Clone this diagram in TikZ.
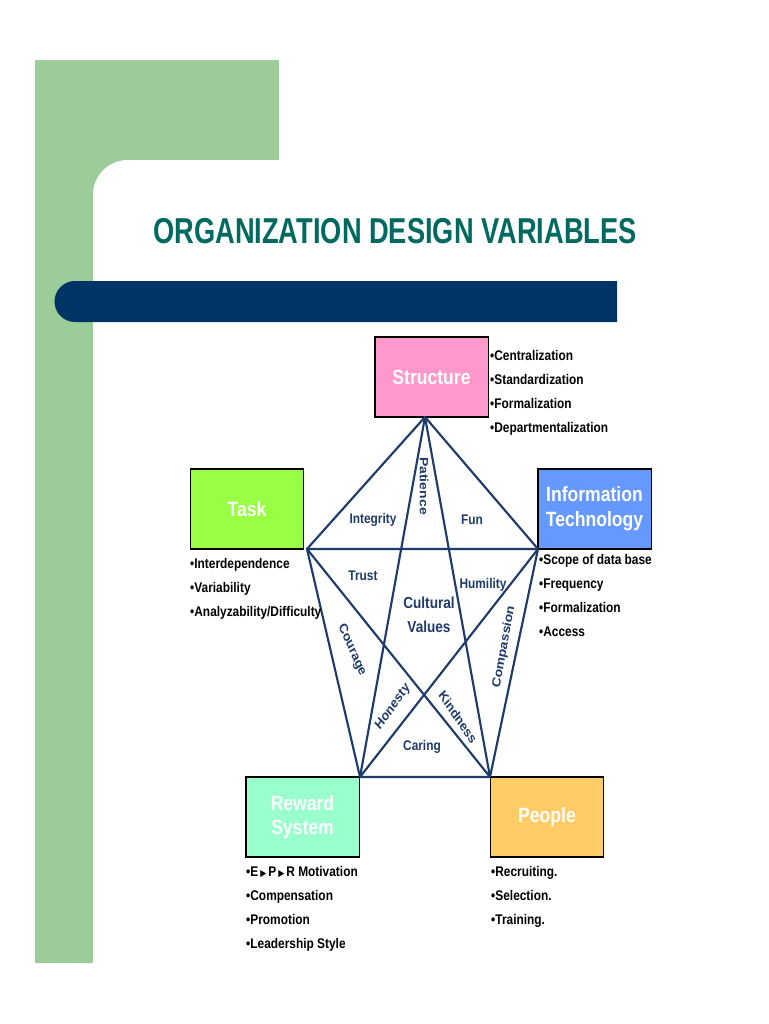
\documentclass[tikz,border=0pt]{standalone}
\usepackage{fontspec}
\setmainfont{Liberation Sans}
\newfontfamily\dejavu{DejaVu Sans}
\begin{document}
\begin{tikzpicture}[x=0.75pt,y=-0.75pt]
\definecolor{bggreen}{HTML}{9CCC98}
\definecolor{navy}{HTML}{003366}
\definecolor{teal}{HTML}{006A60}
\definecolor{lc}{HTML}{1F3B6B}
\tikzset{
 box/.style={draw=black,line width=1pt,minimum width=85pt,minimum height=60pt,inner sep=0pt,align=center},
 boxt/.style={text=white,font=\bfseries\fontsize{15.5}{18.5}\selectfont,align=center,xscale=0.85,inner sep=0pt},
 lst/.style={font=\bfseries\fontsize{10.5}{18}\selectfont,align=left,anchor=north west,inner sep=0pt,text=black,xscale=0.85},
 val/.style={font=\bfseries\fontsize{10.5}{12}\selectfont,text=lc,inner sep=0pt,xscale=0.85},
 edge/.style={draw=lc,line width=1.6pt}}
\useasboundingbox (0,0) rectangle (768,1024);
\fill[white] (0,0) rectangle (768,1024);
\fill[bggreen] (35,60) rectangle (279,200);
\fill[bggreen] (35,60) rectangle (93,963);
\fill[white] (93,963) [rounded corners=26pt] -- (93,160) [sharp corners] -- (279,160) -- (279,963) -- cycle;
\node[font=\bfseries\fontsize{27}{30}\selectfont,text=teal,xscale=0.757] (title) at (395,231) {ORGANIZATION DESIGN VARIABLES};
\fill[navy] (617,281) -- (75,281) arc[start angle=270,end angle=90,radius=20.5] -- (617,322) -- cycle;
% boxes
\node[box,fill={rgb,255:red,255;green,153;blue,204}] (s) at (431.5,377) {};
\node[boxt] at (s) {Structure};
\node[box,fill={rgb,255:red,153;green,255;blue,68}] (t) at (247,509) {};
\node[boxt] at (t) {Task};
\node[box,fill={rgb,255:red,102;green,153;blue,255}] (it) at (594.5,509) {};
\node[boxt] at (it) {Information\\Technology};
\node[box,fill={rgb,255:red,153;green,255;blue,204}] (r) at (302.5,817) {};
\node[boxt] at (r) {Reward\\System};
\node[box,fill={rgb,255:red,255;green,204;blue,102}] (p) at (547,817) {};
\node[boxt] at (p) {People};
% vertices
\coordinate (A) at (425,417);
\coordinate (B) at (307,549);
\coordinate (C) at (538,549);
\coordinate (D) at (360,777);
\coordinate (E) at (490,777);
\draw[edge,line join=round] (A) -- (B) -- (D) -- (E) -- (C) -- cycle;
\draw[edge] (A) -- (D) (A) -- (E) (B) -- (C) (B) -- (E) (C) -- (D);
% values
\node[val] (v1) at (373,520) {Integrity};
\node[val] (v2) at (472,520) {Fun};
\node[val,rotate=-90] (v3) at (424,486) {Patience};
\node[val] (v4) at (363,576) {Trust};
\node[val] (v5) at (483,585) {Humility};
\node[val,font=\bfseries\fontsize{12}{18}\selectfont,align=center] (v6) at (429,615) {Cultural\\Values};
\node[val,rotate=-63] (v7) at (352,650) {Courage};
\node[val,rotate=78] (v8) at (504,647) {Compassion};
\node[val,rotate=50] (v9) at (393,707) {Honesty};
\node[val,rotate=-52] (v10) at (458,717) {Kindness};
\node[val] (v11) at (422,747) {Caring};
% lists
\node[lst] (ls) at (490,350) {•Centralization\\•Standardization\\•Formalization\\•Departmentalization};
\node[lst] (lt) at (190,558) {•Interdependence\\•Variability\\•Analyzability/Difficulty};
\node[lst] (li) at (539,554) {•Scope of data base\\•Frequency\\•Formalization\\•Access};
\node[lst] (lr) at (246,866) {•E\,{\dejavu\fontsize{7}{8}\selectfont▶}\,P\,{\dejavu\fontsize{7}{8}\selectfont▶}\,R Motivation\\•Compensation\\•Promotion\\•Leadership Style};
\node[lst] (lp) at (491,866) {•Recruiting.\\•Selection.\\•Training.};
\end{tikzpicture}
\end{document}
